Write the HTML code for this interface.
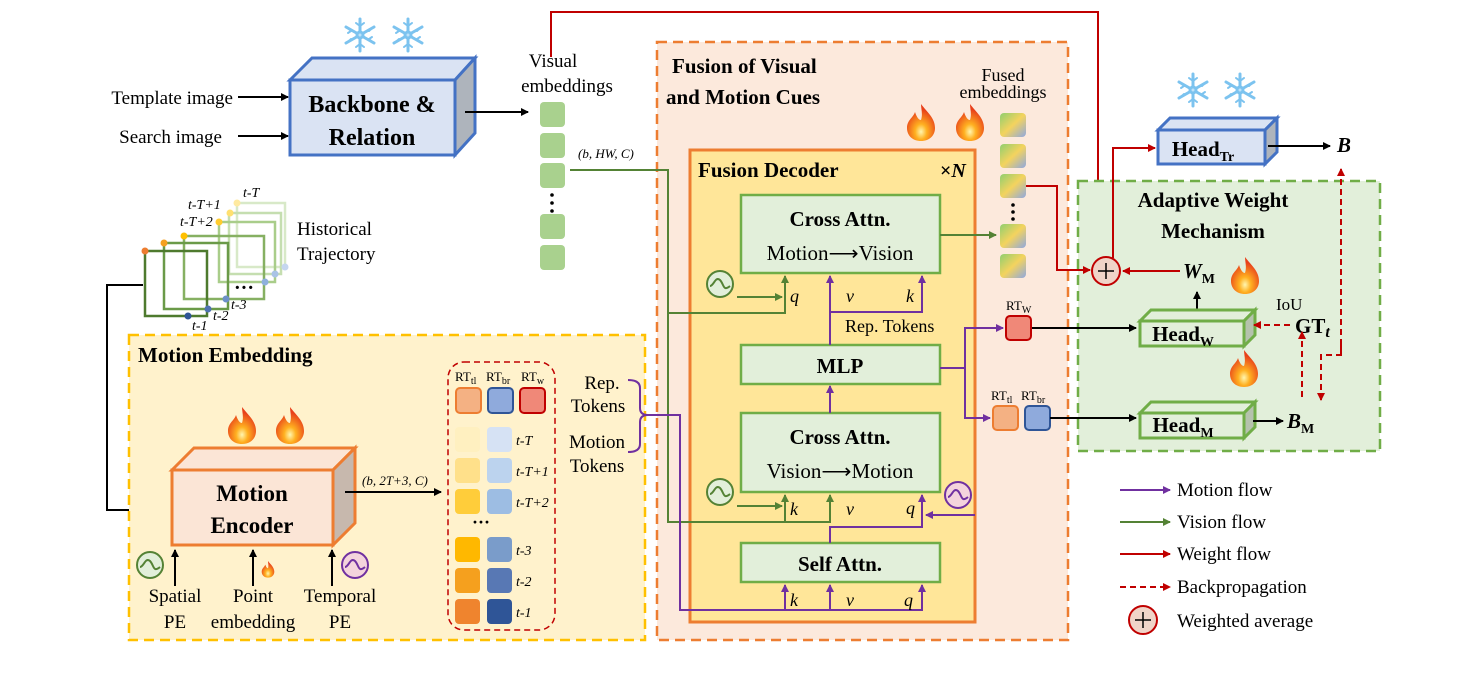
<!DOCTYPE html>
<html><head><meta charset="utf-8"><style>
body{margin:0;background:#fff}
svg{display:block;font-family:"Liberation Serif",serif}
.b{font-weight:bold}
</style></head><body>
<svg width="1475" height="697" viewBox="0 0 1475 697" xmlns="http://www.w3.org/2000/svg">
<defs>
<marker id="ak" markerWidth="8" markerHeight="8" refX="7" refY="4" orient="auto" markerUnits="userSpaceOnUse"><path d="M0,0L8,4L0,8z" fill="#000"/></marker>
<marker id="ag" markerWidth="8" markerHeight="8" refX="7" refY="4" orient="auto" markerUnits="userSpaceOnUse"><path d="M0,0L8,4L0,8z" fill="#548235"/></marker>
<marker id="ap" markerWidth="8" markerHeight="8" refX="7" refY="4" orient="auto" markerUnits="userSpaceOnUse"><path d="M0,0L8,4L0,8z" fill="#7030a0"/></marker>
<marker id="ar" markerWidth="8" markerHeight="8" refX="7" refY="4" orient="auto" markerUnits="userSpaceOnUse"><path d="M0,0L8,4L0,8z" fill="#c00000"/></marker>
<linearGradient id="fg" x1="0" y1="0" x2="1" y2="1"><stop offset="0" stop-color="#8fcf70"/><stop offset="0.5" stop-color="#f4d35e"/><stop offset="1" stop-color="#8fa8e0"/></linearGradient>
<radialGradient id="fl" cx="0.5" cy="0.75" r="0.6"><stop offset="0" stop-color="#fff6b0"/><stop offset="0.35" stop-color="#ffb020"/><stop offset="1" stop-color="#e8401a"/></radialGradient>
<g id="flame"><path d="M0,-20 C6,-12 14,-6 14,4 C14,12 8,17 0,17 C-8,17 -14,12 -14,4 C-14,-4 -8,-6 -6,-12 C-4,-6 -2,-4 0,-4 C2,-10 0,-15 0,-20z" fill="url(#fl)"/></g>
<g id="snow" stroke="#7cc3ef" stroke-width="3" stroke-linecap="round" fill="none"><path d="M0,-16V16M-14,-8L14,8M-14,8L14,-8"/><path d="M-4,-12L0,-9L4,-12M-4,12L0,9L4,12M-12,-2L-9,-4L-12,-7M12,2L9,4L12,7M-12,7L-9,4M12,-7L9,-4" stroke-width="2"/><circle r="3" fill="#bfe3fa"/></g>
<g id="sinG"><circle r="13" fill="#e2efda" stroke="#548235" stroke-width="2"/><path d="M-10,2 C-6,2 -5,-8 0,-4 C4,0 3,8 10,2" stroke="#548235" stroke-width="2" fill="none"/></g>
<g id="sinP"><circle r="13" fill="#f4d3dc" stroke="#7030a0" stroke-width="2"/><path d="M-10,2 C-6,2 -5,-8 0,-4 C4,0 3,8 10,2" stroke="#7030a0" stroke-width="2" fill="none"/></g>
</defs>

<!-- Backbone -->
<use href="#snow" x="360" y="35"/><use href="#snow" x="408" y="35"/>
<polygon points="290,80 312,58 475,58 455,80" fill="#dae3f3" stroke="#4472c4" stroke-width="3"/>
<polygon points="455,80 475,58 475,133 455,155" fill="#aeb4bc" stroke="#4472c4" stroke-width="3"/>
<rect x="290" y="80" width="165" height="75" fill="#dae3f3" stroke="#4472c4" stroke-width="3"/>
<text x="372" y="112" font-size="24" class="b" text-anchor="middle">Backbone &amp;</text>
<text x="372" y="145" font-size="24" class="b" text-anchor="middle">Relation</text>
<text x="233" y="104" font-size="19" text-anchor="end">Template image</text>
<text x="222" y="143" font-size="19" text-anchor="end">Search image</text>
<line x1="238" y1="97" x2="288" y2="97" stroke="#000" stroke-width="2" marker-end="url(#ak)"/>
<line x1="238" y1="136" x2="288" y2="136" stroke="#000" stroke-width="2" marker-end="url(#ak)"/>
<line x1="465" y1="112" x2="528" y2="112" stroke="#000" stroke-width="2" marker-end="url(#ak)"/>
<text x="553" y="67" font-size="19" text-anchor="middle">Visual</text>
<text x="567" y="92" font-size="19" text-anchor="middle">embeddings</text>
<g fill="#a9d18e"><rect x="540" y="102" width="25" height="25" rx="4"/><rect x="540" y="133" width="25" height="25" rx="4"/><rect x="540" y="163" width="25" height="25" rx="4"/><rect x="540" y="214" width="25" height="25" rx="4"/><rect x="540" y="245" width="25" height="25" rx="4"/></g>
<g fill="#000"><circle cx="552" cy="195" r="1.8"/><circle cx="552" cy="203" r="1.8"/><circle cx="552" cy="211" r="1.8"/></g>

<polyline points="551,57 551,12 1098,12 1098,255" fill="none" stroke="#c00000" stroke-width="2" marker-end="url(#ar)"/>

<!-- Trajectory -->
<g fill="none" stroke-width="2.5">
<rect x="237" y="203" width="48" height="64" stroke="#d8e9c8"/>
<rect x="229" y="213" width="52" height="61" stroke="#c5deb0"/>
<rect x="219" y="222" width="56" height="60" stroke="#a9cd8a"/>
<rect x="184" y="236" width="80" height="63" stroke="#86b062"/>
<rect x="164" y="243" width="64" height="66" stroke="#6a9a48"/>
<rect x="145" y="251" width="62" height="65" stroke="#4e7a2e"/>
</g>
<g><circle cx="237" cy="203" r="3.5" fill="#ffeaa0"/><circle cx="230" cy="213" r="3.5" fill="#ffe070"/><circle cx="219" cy="222" r="3.5" fill="#ffcc30"/><circle cx="184" cy="236" r="3.5" fill="#ffc000"/><circle cx="164" cy="243" r="3.5" fill="#f5a020"/><circle cx="145" cy="251" r="3.5" fill="#ed7d31"/>
<circle cx="285" cy="267" r="3.5" fill="#c5d6ef"/><circle cx="275" cy="274" r="3.5" fill="#a9c3e6"/><circle cx="265" cy="282" r="3.5" fill="#8eb0dc"/><circle cx="226" cy="299" r="3.5" fill="#6d90c8"/><circle cx="208" cy="309" r="3.5" fill="#4f73b0"/><circle cx="188" cy="316" r="3.5" fill="#2f5597"/></g>
<g font-size="14" font-style="italic"><text x="243" y="197">t-T</text><text x="188" y="209">t-T+1</text><text x="180" y="226">t-T+2</text><text x="192" y="330">t-1</text><text x="213" y="320">t-2</text><text x="231" y="309">t-3</text></g>
<text x="234" y="294" font-size="20" class="b">···</text>
<text x="297" y="235" font-size="19">Historical</text><text x="297" y="260" font-size="19">Trajectory</text>
<polyline points="143,285 107,285 107,510 170,510" fill="none" stroke="#000" stroke-width="2" marker-end="url(#ak)"/>

<!-- Motion embedding -->
<rect x="129" y="335" width="516" height="305" fill="#fff2cc" stroke="#ffc000" stroke-width="2.5" stroke-dasharray="10,6"/>
<text x="138" y="362" font-size="21" class="b">Motion Embedding</text>
<use href="#flame" x="242" y="427"/><use href="#flame" x="290" y="427"/>
<polygon points="172,470 194,448 355,448 333,470" fill="#fbe5d6" stroke="#ed7d31" stroke-width="3"/>
<polygon points="333,470 355,448 355,523 333,545" fill="#c7b8ad" stroke="#ed7d31" stroke-width="3"/>
<rect x="172" y="470" width="161" height="75" fill="#fbe5d6" stroke="#ed7d31" stroke-width="3"/>
<text x="252" y="501" font-size="23" class="b" text-anchor="middle">Motion</text>
<text x="252" y="533" font-size="23" class="b" text-anchor="middle">Encoder</text>
<line x1="345" y1="492" x2="441" y2="492" stroke="#000" stroke-width="2" marker-end="url(#ak)"/>
<text x="362" y="485" font-size="13" font-style="italic">(b, 2T+3, C)</text>
<g stroke="#000" stroke-width="2"><line x1="175" y1="586" x2="175" y2="550" marker-end="url(#ak)"/><line x1="253" y1="586" x2="253" y2="550" marker-end="url(#ak)"/><line x1="332" y1="586" x2="332" y2="550" marker-end="url(#ak)"/></g>
<use href="#sinG" x="150" y="565"/><use href="#sinP" x="355" y="565"/>
<g transform="translate(268,570) scale(0.45)"><use href="#flame"/></g>
<g font-size="19" text-anchor="middle"><text x="175" y="602">Spatial</text><text x="175" y="628">PE</text><text x="253" y="602">Point</text><text x="253" y="628">embedding</text><text x="340" y="602">Temporal</text><text x="340" y="628">PE</text></g>
<rect x="448" y="362" width="107" height="268" rx="16" fill="none" stroke="#c00000" stroke-width="1.5" stroke-dasharray="6,4"/>
<g font-size="13"><text x="455" y="381">RT<tspan font-size="10" dy="3">tl</tspan></text><text x="486" y="381">RT<tspan font-size="10" dy="3">br</tspan></text><text x="521" y="381">RT<tspan font-size="10" dy="3">w</tspan></text></g>
<rect x="456" y="388" width="25" height="25" rx="4" fill="#f4b183" stroke="#ed7d31" stroke-width="2"/>
<rect x="488" y="388" width="25" height="25" rx="4" fill="#8faadc" stroke="#2f5597" stroke-width="2"/>
<rect x="520" y="388" width="25" height="25" rx="4" fill="#f08878" stroke="#c00000" stroke-width="2"/>
<g>
<rect x="455" y="427" width="25" height="25" rx="4" fill="#fff0c0"/><rect x="487" y="427" width="25" height="25" rx="4" fill="#d6e2f4"/>
<rect x="455" y="458" width="25" height="25" rx="4" fill="#ffe08a"/><rect x="487" y="458" width="25" height="25" rx="4" fill="#bcd3ee"/>
<rect x="455" y="489" width="25" height="25" rx="4" fill="#ffcd3a"/><rect x="487" y="489" width="25" height="25" rx="4" fill="#9dbde3"/>
<rect x="455" y="537" width="25" height="25" rx="4" fill="#ffb800"/><rect x="487" y="537" width="25" height="25" rx="4" fill="#7a9cca"/>
<rect x="455" y="568" width="25" height="25" rx="4" fill="#f5a01e"/><rect x="487" y="568" width="25" height="25" rx="4" fill="#5878b4"/>
<rect x="455" y="599" width="25" height="25" rx="4" fill="#ef842e"/><rect x="487" y="599" width="25" height="25" rx="4" fill="#2f5597"/>
</g>
<text x="472" y="528" font-size="18" class="b">···</text>
<g font-size="14" font-style="italic"><text x="516" y="445">t-T</text><text x="516" y="476">t-T+1</text><text x="516" y="507">t-T+2</text><text x="516" y="555">t-3</text><text x="516" y="586">t-2</text><text x="516" y="617">t-1</text></g>
<g font-size="19" text-anchor="middle"><text x="602" y="389">Rep.</text><text x="598" y="412">Tokens</text><text x="597" y="448">Motion</text><text x="597" y="472">Tokens</text></g>

<!-- Fusion -->
<rect x="657" y="42" width="411" height="598" fill="#fce9dc" stroke="#ed7d31" stroke-width="2.5" stroke-dasharray="10,6"/>
<text x="672" y="73" font-size="21" class="b">Fusion of Visual</text>
<text x="666" y="104" font-size="21" class="b">and Motion Cues</text>
<text x="1003" y="81" font-size="18" text-anchor="middle">Fused</text>
<text x="1003" y="98" font-size="18" text-anchor="middle">embeddings</text>
<use href="#flame" x="921" y="124"/><use href="#flame" x="970" y="124"/>
<g fill="url(#fg)"><rect x="1000" y="113" width="26" height="24" rx="4"/><rect x="1000" y="144" width="26" height="24" rx="4"/><rect x="1000" y="174" width="26" height="24" rx="4"/><rect x="1000" y="224" width="26" height="24" rx="4"/><rect x="1000" y="254" width="26" height="24" rx="4"/></g>
<g fill="#000"><circle cx="1013" cy="205" r="1.8"/><circle cx="1013" cy="212" r="1.8"/><circle cx="1013" cy="219" r="1.8"/></g>

<rect x="690" y="150" width="285" height="472" fill="#ffe699" stroke="#ed7d31" stroke-width="3"/>
<text x="698" y="177" font-size="21" class="b">Fusion Decoder</text>
<text x="940" y="177" font-size="20" class="b">×<tspan font-style="italic">N</tspan></text>
<g fill="#e2efda" stroke="#70ad47" stroke-width="2.5">
<rect x="741" y="195" width="199" height="78"/><rect x="741" y="345" width="199" height="39"/><rect x="741" y="413" width="199" height="79"/><rect x="741" y="543" width="199" height="39"/></g>
<g font-size="21" text-anchor="middle">
<text x="840" y="226" class="b">Cross Attn.</text><text x="840" y="260">Motion⟶Vision</text>
<text x="840" y="373" class="b">MLP</text>
<text x="840" y="444" class="b">Cross Attn.</text><text x="840" y="478">Vision⟶Motion</text>
<text x="840" y="571" class="b">Self Attn.</text></g>

<text x="578" y="158" font-size="13" font-style="italic">(b, HW, C)</text>
<polyline points="570,170 668,170 668,522 830,522 830,495" fill="none" stroke="#548235" stroke-width="2" marker-end="url(#ag)"/>
<polyline points="668,313 785,313 785,276" fill="none" stroke="#548235" stroke-width="2" marker-end="url(#ag)"/>
<use href="#sinG" x="720" y="284"/><use href="#sinG" x="720" y="492"/><use href="#sinP" x="958" y="495"/>
<line x1="737" y1="297" x2="782" y2="297" stroke="#548235" stroke-width="2" marker-end="url(#ag)"/>
<line x1="737" y1="506" x2="782" y2="506" stroke="#548235" stroke-width="2" marker-end="url(#ag)"/>
<line x1="785" y1="522" x2="785" y2="495" stroke="#548235" stroke-width="2" marker-end="url(#ag)"/>
<line x1="940" y1="235" x2="996" y2="235" stroke="#548235" stroke-width="2" marker-end="url(#ag)"/>

<path d="M628,380 Q640,380 640,388 V408 Q640,415 648,415 M648,415 Q640,415 640,422 V444 Q640,452 628,452" fill="none" stroke="#7030a0" stroke-width="2"/>
<polyline points="645,415 680,415 680,610 922,610 922,585" fill="none" stroke="#7030a0" stroke-width="2" marker-end="url(#ap)"/>
<line x1="785" y1="610" x2="785" y2="585" stroke="#7030a0" stroke-width="2" marker-end="url(#ap)"/>
<line x1="830" y1="610" x2="830" y2="585" stroke="#7030a0" stroke-width="2" marker-end="url(#ap)"/>
<polyline points="830,543 830,527 922,527 922,495" fill="none" stroke="#7030a0" stroke-width="2" marker-end="url(#ap)"/>
<line x1="975" y1="515" x2="926" y2="515" stroke="#7030a0" stroke-width="2" marker-end="url(#ap)"/>
<line x1="830" y1="413" x2="830" y2="386" stroke="#7030a0" stroke-width="2" marker-end="url(#ap)"/>
<line x1="830" y1="345" x2="830" y2="276" stroke="#7030a0" stroke-width="2" marker-end="url(#ap)"/>
<polyline points="830,312 922,312 922,276" fill="none" stroke="#7030a0" stroke-width="2" marker-end="url(#ap)"/>
<polyline points="940,368 965,368 965,328 1003,328" fill="none" stroke="#7030a0" stroke-width="2" marker-end="url(#ap)"/>
<polyline points="965,368 965,418 990,418" fill="none" stroke="#7030a0" stroke-width="2" marker-end="url(#ap)"/>
<g font-size="18" font-style="italic"><text x="790" y="302">q</text><text x="846" y="302">v</text><text x="906" y="302">k</text><text x="790" y="515">k</text><text x="846" y="515">v</text><text x="906" y="514">q</text><text x="790" y="606">k</text><text x="846" y="606">v</text><text x="904" y="606">q</text></g>
<text x="845" y="332" font-size="18">Rep. Tokens</text>
<text x="1006" y="310" font-size="13">RT<tspan font-size="10" dy="3">W</tspan></text>
<rect x="1006" y="316" width="25" height="24" rx="4" fill="#f08878" stroke="#c00000" stroke-width="2"/>
<text x="991" y="400" font-size="13">RT<tspan font-size="10" dy="3">tl</tspan></text>
<text x="1021" y="400" font-size="13">RT<tspan font-size="10" dy="3">br</tspan></text>
<rect x="993" y="406" width="25" height="24" rx="4" fill="#f4b183" stroke="#ed7d31" stroke-width="2"/>
<rect x="1025" y="406" width="25" height="24" rx="4" fill="#8faadc" stroke="#2f5597" stroke-width="2"/>

<!-- Adaptive weight -->
<rect x="1078" y="181" width="302" height="270" fill="#e2efda" stroke="#70ad47" stroke-width="2.5" stroke-dasharray="10,6"/>
<text x="1213" y="207" font-size="21" class="b" text-anchor="middle">Adaptive Weight</text>
<text x="1213" y="238" font-size="21" class="b" text-anchor="middle">Mechanism</text>
<polyline points="1026,186 1057,186 1057,270 1090,270" fill="none" stroke="#c00000" stroke-width="2" marker-end="url(#ar)"/>
<line x1="1032" y1="328" x2="1136" y2="328" stroke="#000" stroke-width="2" marker-end="url(#ak)"/>
<line x1="1050" y1="418" x2="1136" y2="418" stroke="#000" stroke-width="2" marker-end="url(#ak)"/>

<use href="#snow" x="1193" y="90"/><use href="#snow" x="1240" y="90"/>
<polygon points="1158,130 1170,118 1277,118 1265,130" fill="#dae3f3" stroke="#4472c4" stroke-width="3"/>
<polygon points="1265,130 1277,118 1277,152 1265,164" fill="#aeb4bc" stroke="#4472c4" stroke-width="3"/>
<rect x="1158" y="130" width="107" height="34" fill="#dae3f3" stroke="#4472c4" stroke-width="3"/>
<text x="1203" y="156" font-size="21" class="b" text-anchor="middle">Head<tspan font-size="14" dy="5">Tr</tspan></text>
<line x1="1268" y1="146" x2="1330" y2="146" stroke="#000" stroke-width="2" marker-end="url(#ak)"/>
<text x="1337" y="152" font-size="21" class="b" font-style="italic">B</text>

<polyline points="1113,258 1113,148 1155,148" fill="none" stroke="#c00000" stroke-width="2" marker-end="url(#ar)"/>
<circle cx="1106" cy="271" r="14" fill="#f0d4c8" stroke="#c00000" stroke-width="2"/>
<path d="M1098,271H1114M1106,263V279" stroke="#000" stroke-width="1.5"/>
<line x1="1180" y1="271" x2="1123" y2="271" stroke="#c00000" stroke-width="2" marker-end="url(#ar)"/>
<text x="1183" y="278" font-size="21" class="b" font-style="italic">W<tspan font-size="14" dy="5" font-style="normal">M</tspan></text>
<use href="#flame" x="1245" y="277"/><use href="#flame" x="1244" y="370"/>
<line x1="1197" y1="310" x2="1197" y2="292" stroke="#000" stroke-width="2" marker-end="url(#ak)"/>

<polygon points="1140,321 1151,310 1255,310 1244,321" fill="#e2efda" stroke="#70ad47" stroke-width="3"/>
<polygon points="1244,321 1255,310 1255,335 1244,346" fill="#b5c2ad" stroke="#70ad47" stroke-width="3"/>
<rect x="1140" y="321" width="104" height="25" fill="#e2efda" stroke="#70ad47" stroke-width="3"/>
<text x="1183" y="341" font-size="21" class="b" text-anchor="middle">Head<tspan font-size="14" dy="5">W</tspan></text>

<polygon points="1140,413 1151,402 1255,402 1244,413" fill="#e2efda" stroke="#70ad47" stroke-width="3"/>
<polygon points="1244,413 1255,402 1255,427 1244,438" fill="#b5c2ad" stroke="#70ad47" stroke-width="3"/>
<rect x="1140" y="413" width="104" height="25" fill="#e2efda" stroke="#70ad47" stroke-width="3"/>
<text x="1183" y="432" font-size="21" class="b" text-anchor="middle">Head<tspan font-size="14" dy="5">M</tspan></text>
<line x1="1253" y1="421" x2="1283" y2="421" stroke="#000" stroke-width="2" marker-end="url(#ak)"/>
<text x="1287" y="428" font-size="21" class="b" font-style="italic">B<tspan font-size="14" dy="5" font-style="normal">M</tspan></text>

<text x="1276" y="310" font-size="17">IoU</text>
<text x="1295" y="333" font-size="21" class="b">GT<tspan font-style="italic" font-size="16" dy="4">t</tspan></text>
<g stroke="#c00000" stroke-width="2" stroke-dasharray="6,4" fill="none">
<line x1="1290" y1="325" x2="1254" y2="325" marker-end="url(#ar)"/>
<line x1="1302" y1="397" x2="1302" y2="332" marker-end="url(#ar)"/>
<polyline points="1341,355 1341,169" marker-end="url(#ar)"/>
<polyline points="1341,344 1341,355 1321,355 1321,400" marker-end="url(#ar)"/>
</g>

<line x1="1120" y1="490" x2="1170" y2="490" stroke="#7030a0" stroke-width="2" marker-end="url(#ap)"/>
<line x1="1120" y1="522" x2="1170" y2="522" stroke="#548235" stroke-width="2" marker-end="url(#ag)"/>
<line x1="1120" y1="554" x2="1170" y2="554" stroke="#c00000" stroke-width="2" marker-end="url(#ar)"/>
<line x1="1120" y1="587" x2="1170" y2="587" stroke="#c00000" stroke-width="2" stroke-dasharray="6,4" marker-end="url(#ar)"/>
<circle cx="1143" cy="620" r="14" fill="#f0d4c8" stroke="#c00000" stroke-width="2"/>
<path d="M1135,620H1151M1143,612V628" stroke="#000" stroke-width="1.5"/>
<g font-size="19"><text x="1177" y="496">Motion flow</text><text x="1177" y="528">Vision flow</text><text x="1177" y="560">Weight flow</text><text x="1177" y="593">Backpropagation</text><text x="1177" y="627">Weighted average</text></g>
</svg>
</body></html>
